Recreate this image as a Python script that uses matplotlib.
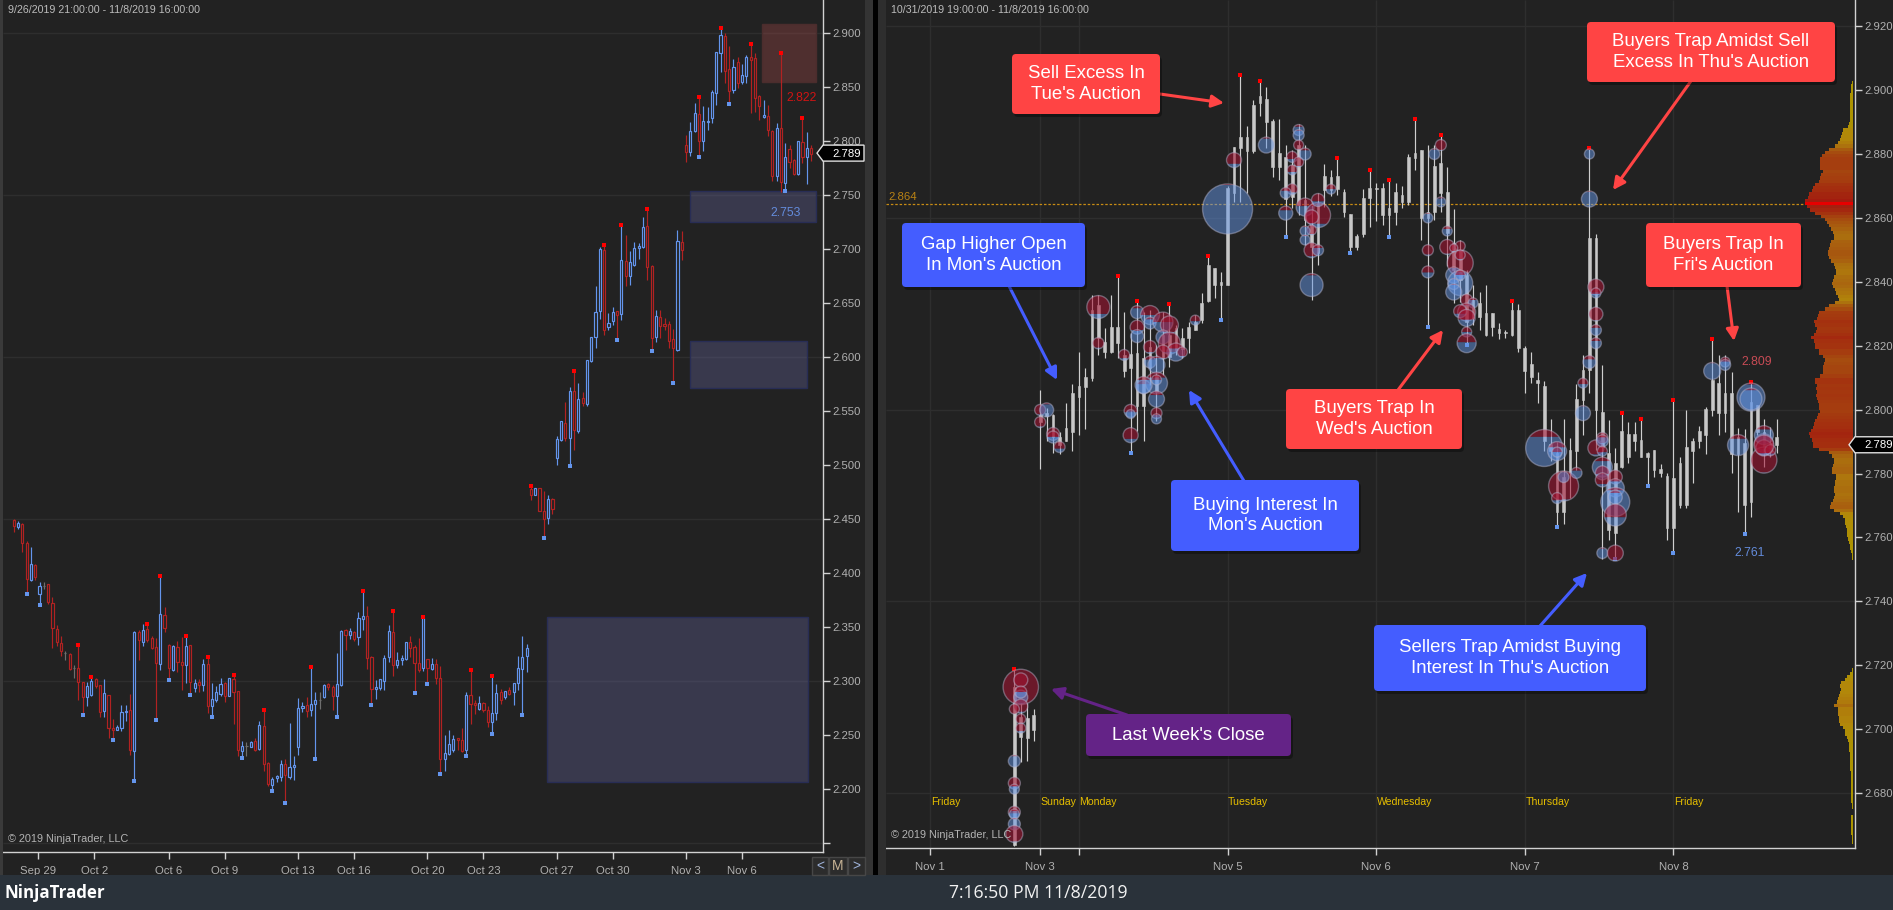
import numpy as np
import matplotlib
matplotlib.use('Agg')
import matplotlib.pyplot as plt
from matplotlib.patches import Rectangle, Circle, Polygon, FancyBboxPatch
from matplotlib.transforms import IdentityTransform
from matplotlib.colors import LinearSegmentedColormap

plt.rcParams['font.family'] = ['Liberation Sans', 'DejaVu Sans']

# ---- left chart: 30 minute style candles, R = down, B = up, G = doji
left_dir = ("RBRRBRBGRR" "RRGRGRRBBR" "RBRRBBBRBR" "BRRRBRRBRR" "BRBRBRBBBR" "BRRBGBRBRR"
            "BBBRBBBBRB" "BGBRRBBRBR" "BBRRBBBBRB" "BBRRRBRBRR" "BBBRRBRRBR" "RBBRBRBBBB"
            "RBRRBR" "BBRBRBRBBB" "BRBBRBRBBB" "BRRBRRRRBR" "RBBRBBBBBR" "RBRBBRRRBR" "RBRBRRBRBR")
left_high = [2.4500,2.4485,2.4463,2.4296,2.4244,2.4083,2.3919,2.3919,2.3898,2.3780,
    2.3521,2.3419,2.3280,2.3255,2.3147,2.3335,2.2989,2.2989,2.3039,2.3026,
    2.2965,2.3020,2.2872,2.2646,2.2591,2.2776,2.2779,2.2881,2.3465,2.3474,
    2.3530,2.3530,2.3413,2.3394,2.3975,2.3688,2.3338,2.3329,2.3366,2.3410,
    2.3419,2.3335,2.3017,2.3020,2.3202,2.3224,2.2980,2.2949,2.3026,2.2989,
    2.3026,2.3057,2.2906,2.2445,2.2436,2.2439,2.2470,2.2628,2.2733,2.2245,
    2.2109,2.2130,2.2269,2.2275,2.2609,2.2306,2.2841,2.2807,2.2850,2.3131,
    2.2897,2.2897,2.2974,2.2980,2.2958,2.3258,2.3474,2.3481,2.3490,2.3459,
    2.3638,2.3836,2.3697,2.3227,2.3011,2.3020,2.3243,2.3521,2.3651,2.3270,
    2.3236,2.3360,2.3419,2.3329,2.3397,2.3595,2.3202,2.3212,2.3202,2.3141,
    2.2501,2.2547,2.2501,2.2470,2.2563,2.2897,2.3104,2.2819,2.2863,2.2804,
    2.2764,2.3048,2.2971,2.2924,2.2909,2.2943,2.2980,2.3233,2.3419,2.3345,
    2.4809,2.4791,2.4788,2.4754,2.4723,2.4695,
    2.527,2.5408,2.5587,2.572,2.5874,2.576,2.568,2.5975,2.619,2.666,
    2.702,2.704,2.6408,2.6463,2.643,2.7225,2.7133,2.6985,2.7065,2.706,
    2.73,2.7374,2.685,2.644,2.644,2.636,2.633,2.626,2.718,2.717,
    2.8059,2.8182,2.8358,2.841,2.8327,2.832,2.8475,2.8824,2.905,2.90,
    2.888,2.876,2.8778,2.872,2.88,2.89,2.8815,2.843,2.838,2.8333,
    2.8105,2.8167,2.882,2.798,2.7966,2.784,2.8,2.8216,2.8083,2.7963]
left_top = [2.4494,2.4463,2.4454,2.4278,2.4083,2.4074,2.3882,2.3876,2.3895,2.3722,
    2.3481,2.3351,2.3258,2.3249,2.3119,2.3119,2.2986,2.2952,2.2998,2.3017,
    2.2958,2.2887,2.2869,2.2560,2.2572,2.2711,2.2717,2.2730,2.3453,2.3453,
    2.3471,2.3481,2.3397,2.3314,2.3620,2.3610,2.3335,2.3323,2.3314,2.3172,
    2.3323,2.3329,2.2980,2.2989,2.3156,2.3156,2.2832,2.2897,2.2971,2.2983,
    2.3023,2.3017,2.2903,2.2396,2.2399,2.2433,2.2442,2.2591,2.2581,2.2238,
    2.2093,2.2118,2.2229,2.2229,2.2201,2.2220,2.2748,2.2767,2.2776,2.2785,
    2.2822,2.2822,2.2962,2.2971,2.2946,2.2971,2.3465,2.3474,2.3462,2.3453,
    2.3583,2.3601,2.3601,2.3221,2.2943,2.3017,2.3212,2.3462,2.3453,2.3193,
    2.3215,2.3360,2.3360,2.3314,2.3165,2.3583,2.3199,2.3156,2.3156,2.3023,
    2.2331,2.2415,2.2461,2.2467,2.2452,2.2869,2.2869,2.2795,2.2795,2.2795,
    2.2727,2.2702,2.2887,2.2897,2.2903,2.2912,2.2980,2.3119,2.3221,2.3305,
    2.4778,2.4788,2.4788,2.4574,2.4686,2.4689,
    2.524,2.5408,2.539,2.5686,2.5683,2.561,2.562,2.597,2.6185,2.6417,
    2.7003,2.699,2.632,2.6417,2.6423,2.69,2.6886,2.688,2.701,2.703,
    2.7204,2.7213,2.684,2.638,2.637,2.631,2.6306,2.6167,2.7074,2.7065,
    2.7963,2.8099,2.8259,2.8256,2.8191,2.819,2.8454,2.8824,2.898,2.8975,
    2.8667,2.8685,2.873,2.861,2.8784,2.8784,2.8769,2.8417,2.824,2.823,
    2.8096,2.812,2.812,2.785,2.7926,2.783,2.8,2.7997,2.7935,2.7935]
left_bottom = [2.4432,2.4426,2.4275,2.3944,2.3932,2.3960,2.3802,2.3876,2.3728,2.3487,
    2.3357,2.3274,2.3258,2.3110,2.3119,2.2989,2.2850,2.2850,2.2866,2.2949,
    2.2711,2.2717,2.2560,2.2547,2.2544,2.2560,2.2708,2.2356,2.2347,2.3376,
    2.3357,2.3376,2.3301,2.3165,2.3153,2.3487,2.3116,2.3104,2.3172,2.3147,
    2.3147,2.2989,2.2931,2.2958,2.2961,2.2764,2.2764,2.2825,2.2881,2.2856,
    2.2856,2.2893,2.2356,2.2353,2.2399,2.2387,2.2362,2.2365,2.2226,2.2047,
    2.2035,2.2096,2.2106,2.2130,2.2109,2.2198,2.2384,2.2745,2.2717,2.2727,
    2.2782,2.2822,2.2847,2.2943,2.2856,2.2856,2.2965,2.3422,2.3422,2.3391,
    2.3403,2.3576,2.3209,2.2924,2.2924,2.2931,2.2995,2.3218,2.3144,2.3144,
    2.3190,2.3202,2.3301,2.3162,2.3104,2.3119,2.3116,2.3113,2.3023,2.2272,
    2.2272,2.2325,2.2356,2.2449,2.2347,2.2356,2.2785,2.2779,2.2739,2.2727,
    2.2615,2.2615,2.2702,2.2819,2.2850,2.2881,2.2897,2.2980,2.3110,2.3227,
    2.4720,2.4726,2.4571,2.4500,2.4506,2.4596,
    2.506,2.5235,2.5247,2.525,2.532,2.5315,2.557,2.5565,2.5966,2.619,
    2.6426,2.6247,2.628,2.633,2.639,2.6395,2.6747,2.6747,2.6855,2.701,
    2.702,2.683,2.618,2.619,2.629,2.629,2.6146,2.608,2.6068,2.6994,
    2.7904,2.7898,2.8099,2.8006,2.8006,2.818,2.822,2.8445,2.882,2.8654,
    2.847,2.8475,2.8537,2.8553,2.8605,2.8753,2.8404,2.833,2.8225,2.81,
    2.768,2.768,2.762,2.761,2.781,2.7695,2.7695,2.7858,2.7858,2.7886]
left_low = [2.4377,2.4408,2.4191,2.3808,2.3922,2.3938,2.3706,2.3851,2.3712,2.3308,
    2.3320,2.3233,2.3196,2.3104,2.3023,2.2819,2.2683,2.2764,2.2863,2.2931,
    2.2662,2.2662,2.2467,2.2455,2.2541,2.2538,2.2625,2.2316,2.2069,2.3190,
    2.3320,2.3363,2.3298,2.2634,2.3104,2.3450,2.3011,2.3088,2.3082,2.2912,
    2.2980,2.2866,2.2893,2.2893,2.2906,2.2702,2.2665,2.2807,2.2863,2.2807,
    2.2856,2.2603,2.2306,2.2285,2.2306,2.2384,2.2347,2.2362,2.2167,2.2022,
    2.1976,2.2059,2.2069,2.1868,2.2090,2.2084,2.2309,2.2708,2.2662,2.2671,
    2.2279,2.2742,2.2838,2.2912,2.2733,2.2662,2.2955,2.3289,2.3391,2.3372,
    2.3329,2.3474,2.3113,2.2773,2.2835,2.2912,2.2918,2.3172,2.3048,2.3116,
    2.3150,2.3196,2.3221,2.2890,2.3079,2.3088,2.2971,2.3101,2.2974,2.2139,
    2.2161,2.2309,2.2337,2.2362,2.2337,2.2306,2.2603,2.2696,2.2727,2.2711,
    2.2569,2.2510,2.2634,2.2788,2.2829,2.2866,2.2779,2.2918,2.2687,2.3079,
    2.4673,2.4720,2.4571,2.4324,2.4451,2.4550,
    2.4995,2.522,2.522,2.4988,2.5136,2.53,2.555,2.555,2.595,2.6087,
    2.6355,2.62,2.625,2.63,2.616,2.6346,2.666,2.667,2.6846,2.691,
    2.701,2.671,2.606,2.614,2.618,2.625,2.608,2.5755,2.606,2.6895,
    2.7812,2.7867,2.809,2.7858,2.7914,2.8105,2.8173,2.8337,2.8645,2.8537,
    2.8346,2.8445,2.849,2.853,2.8537,2.826,2.8275,2.82,2.822,2.805,
    2.7627,2.763,2.7525,2.7535,2.775,2.769,2.769,2.78,2.7605,2.782]
left_peaks = [15,18,31,34,40,45,51,58,69,81,88,95,106,111,120,130,137,141,147,159,164,171,178,183]
left_troughs = [3,6,16,23,28,33,36,41,46,53,60,63,70,75,83,93,96,99,105,111,118,123,129,140,148,153,159,166,179]
left_tick_pos = [5.7,18.7,36,49,66,79,96,109,126,139,156,169]
left_tick_labels = ['Sep 29','Oct 2','Oct 6','Oct 9','Oct 13','Oct 16','Oct 20','Oct 23','Oct 27','Oct 30','Nov 3','Nov 6']
left_y_ticks = [2.90,2.85,2.80,2.75,2.70,2.65,2.60,2.55,2.50,2.45,2.40,2.35,2.30,2.25,2.20,2.15]
left_grid = [2.90,2.75,2.60,2.45,2.30,2.15]
zone_x0 = [173.7,157,156.8,123.8]
zone_x1 = [186.2,186.2,184,184.2]
zone_lo = [2.8553,2.725,2.5713,2.2062]
zone_hi = [2.9086,2.7543,2.6146,2.3592]
zone_kind = ['sell','buy','buy','buy']

# ---- right chart
right_high = [2.7188,2.7082,2.7082,2.7063,2.8061,2.8005,2.7986,2.7930,2.8021,2.8080,
    2.8180,2.8130,2.8359,2.8359,2.8255,2.8359,2.8418,2.8305,2.8240,2.8340,
    2.8305,2.8312,2.8202,2.8305,2.8330,2.8265,2.8255,2.8274,2.8296,2.8365,
    2.8481,2.8443,2.8431,2.8700,2.8822,2.9047,2.8888,2.8969,2.9028,2.9010,
    2.8910,2.8910,2.8828,2.8812,2.8894,2.8828,2.8640,2.8678,2.8769,2.8750,
    2.8787,2.8690,2.8612,2.8550,2.8690,2.8750,2.8709,2.8709,2.8719,2.8709,
    2.8700,2.8800,2.8910,2.8812,2.8828,2.8828,2.8859,2.8759,2.8628,2.8531,
    2.8437,2.8390,2.8368,2.8390,2.8302,2.8271,2.8249,2.8340,2.8330,2.8199,
    2.8180,2.8118,2.8089,2.7971,2.7899,2.7971,2.7911,2.8080,2.8171,2.8819,
    2.8550,2.8140,2.7967,2.7880,2.7989,2.7961,2.7961,2.7971,2.7867,2.7873,
    2.7830,2.7802,2.8030,2.7852,2.7999,2.7911,2.7949,2.8008,2.8221,2.8171,
    2.8171,2.8118,2.7942,2.7939,2.8086,2.8014,2.7971,2.7945,2.7971]
right_top = [2.7132,2.7038,2.7035,2.7044,2.7983,2.7989,2.7983,2.7914,2.7942,2.8052,
    2.8074,2.8102,2.8312,2.8327,2.8212,2.8258,2.8258,2.8171,2.8174,2.8177,
    2.8161,2.8196,2.8108,2.8233,2.8233,2.8255,2.8224,2.8258,2.8274,2.8334,
    2.8453,2.8443,2.8399,2.8694,2.8822,2.8853,2.8853,2.8953,2.8982,2.8972,
    2.8903,2.8803,2.8791,2.8766,2.8828,2.8656,2.8578,2.8647,2.8731,2.8728,
    2.8731,2.8681,2.8612,2.8543,2.8662,2.8694,2.8694,2.8694,2.8631,2.8681,
    2.8672,2.8791,2.8803,2.8812,2.8618,2.8762,2.8772,2.8681,2.8521,2.8499,
    2.8421,2.8343,2.8334,2.8302,2.8302,2.8252,2.8243,2.8312,2.8312,2.8193,
    2.8143,2.8093,2.8074,2.7892,2.7864,2.7789,2.7873,2.8033,2.8124,2.8537,
    2.8537,2.7992,2.7864,2.7833,2.7933,2.7924,2.7924,2.7905,2.7864,2.7873,
    2.7814,2.7792,2.7786,2.7833,2.7883,2.7902,2.7933,2.8002,2.8093,2.8083,
    2.8052,2.8052,2.7914,2.7895,2.8024,2.8014,2.7930,2.7895,2.7914]
right_bottom = [2.6637,2.6975,2.6972,2.6997,2.7961,2.7980,2.7914,2.7889,2.7902,2.7930,
    2.8039,2.8071,2.8099,2.8224,2.8180,2.8180,2.8208,2.8121,2.8130,2.8011,
    2.8011,2.8130,2.8055,2.8161,2.8165,2.8186,2.8190,2.8224,2.8249,2.8280,
    2.8340,2.8390,2.8390,2.8390,2.8678,2.8819,2.8809,2.8809,2.8960,2.8900,
    2.8759,2.8759,2.8659,2.8665,2.8640,2.8593,2.8509,2.8490,2.8687,2.8687,
    2.8690,2.8618,2.8509,2.8509,2.8550,2.8662,2.8690,2.8609,2.8609,2.8618,
    2.8650,2.8650,2.8787,2.8600,2.8600,2.8618,2.8678,2.8553,2.8437,2.8406,
    2.8274,2.8287,2.8290,2.8233,2.8258,2.8240,2.8240,2.8233,2.8193,2.8121,
    2.8102,2.8083,2.7902,2.7870,2.7679,2.7679,2.7802,2.7870,2.8030,2.8124,
    2.7999,2.7883,2.7623,2.7614,2.7820,2.7852,2.7902,2.7852,2.7852,2.7811,
    2.7802,2.7629,2.7629,2.7701,2.7701,2.7870,2.7902,2.7920,2.7999,2.7989,
    2.7989,2.7861,2.7861,2.7701,2.7711,2.7930,2.7867,2.7867,2.7889]
right_low = [2.6634,2.6897,2.6900,2.6963,2.7814,2.7902,2.7864,2.7861,2.7902,2.7870,
    2.7920,2.7939,2.8089,2.8171,2.8161,2.8177,2.8161,2.8102,2.7864,2.7933,
    2.7902,2.8077,2.7964,2.8108,2.8133,2.8171,2.8161,2.8177,2.8249,2.8271,
    2.8337,2.8349,2.8280,2.8390,2.8650,2.8650,2.8678,2.8803,2.8919,2.8819,
    2.8728,2.8719,2.8540,2.8631,2.8609,2.8515,2.8343,2.8453,2.8634,2.8669,
    2.8672,2.8603,2.8490,2.8499,2.8540,2.8571,2.8590,2.8578,2.8540,2.8578,
    2.8631,2.8640,2.8750,2.8531,2.8258,2.8593,2.8618,2.8449,2.8334,2.8337,
    2.8202,2.8265,2.8249,2.8230,2.8230,2.8221,2.8224,2.8230,2.8180,2.8052,
    2.8083,2.8021,2.7870,2.7839,2.7632,2.7642,2.7723,2.7811,2.7920,2.8052,
    2.7873,2.7532,2.7592,2.7532,2.7817,2.7833,2.7870,2.7852,2.7761,2.7789,
    2.7789,2.7592,2.7551,2.7692,2.7692,2.7770,2.7880,2.7861,2.7980,2.7920,
    2.7930,2.7802,2.7679,2.7611,2.7664,2.7920,2.7820,2.7852,2.7864]
right_peaks = [0,16,19,24,30,35,38,50,55,58,62,66,77,89,94,97,102,108,114]
right_troughs = [18,32,42,52,58,64,70,84,93,98,102,113]
right_tick_pos = [-13,4,10,33,56,79,102]
right_tick_labels = ['Nov 1','Nov 3','','Nov 5','Nov 6','Nov 7','Nov 8']
right_y_ticks = [2.92,2.90,2.88,2.86,2.84,2.82,2.80,2.78,2.76,2.74,2.72,2.70,2.68]
right_grid = [2.92,2.86,2.80,2.74,2.68]
day_pos = [-13,4,10,33,56,79,102]
day_names = ['Friday','Sunday','Monday','Tuesday','Wednesday','Thursday','Friday']
poc_price = 2.8643
last_price = 2.789

# bubbles: candle index, price, radius in pixels, share of the bubble that is sell volume
bubble_idx = [1,1,1,1,1,0,1,1,0,0,0,0,0,0,0,
    4,5,4,6,6,7,13,13,17,18,18,18,19,19,19,21,21,23,24,23,24,25,26,21,23,21,22,20,22,20,22,22,22,22,28,
    33,34,39,44,44,44,43,44,43,45,43,42,42,45,47,47,46,46,45,45,46,47,46,49,
    66,65,64,66,67,64,64,67,69,69,69,68,68,69,68,69,68,70,71,70,69,70,70,70,
    89,89,90,90,90,90,90,89,88,88,108,110,110,114,114,112,82,84,84,85,85,84,87,
    90,91,91,91,91,91,91,93,93,93,93,93,91,93,116,116,116,116,117,116]
bubble_price = [2.7132,2.7154,2.7100,2.7116,2.7072,2.7063,2.7032,2.7003,2.6900,2.6831,2.6812,2.6740,2.6734,2.6703,2.6672,
    2.7999,2.7999,2.7961,2.7924,2.7914,2.7883,2.8321,2.8208,2.8171,2.7996,2.7986,2.7920,2.8305,2.8258,2.8230,
    2.8296,2.8271,2.8274,2.8265,2.8227,2.8208,2.8180,2.8180,2.8196,2.8180,2.8149,2.8140,2.8071,2.8083,2.8077,2.8033,2.7989,2.7971,2.8093,2.8280,
    2.8628,2.8781,2.8828,2.8875,2.8859,2.8828,2.8791,2.8775,2.8750,2.8800,2.8690,2.8678,2.8615,2.8634,2.8609,2.8656,2.8603,2.8562,2.8559,2.8531,2.8499,2.8499,2.8390,2.8690,
    2.8828,2.8800,2.8600,2.8650,2.8559,2.8499,2.8431,2.8509,2.8459,2.8512,2.8484,2.8506,2.8421,2.8396,2.8393,2.8421,2.8368,2.8343,2.8334,2.8305,2.8308,2.8287,2.8243,2.8208,
    2.8800,2.8659,2.8384,2.8365,2.8299,2.8249,2.8208,2.8149,2.8083,2.7989,2.8121,2.8149,2.8140,2.8039,2.8033,2.7889,2.7880,2.7870,2.7867,2.7761,2.7789,2.7723,2.7802,
    2.7880,2.7911,2.7902,2.7870,2.7820,2.7802,2.7780,2.7789,2.7755,2.7711,2.7726,2.7670,2.7551,2.7551,2.7895,2.7842,2.7920,2.7880,2.7873,2.7889]
bubble_radius = [17.7,7,7,6,7,5,5,5,6,6,5,6,5,6,8.5,
    5.5,7,5.5,6.5,6,5.5,11.5,5.7,5.5,6.5,4.5,7.5,6.5,7,6.5,9.5,6,10,9,7,11,9,5,6.5,7,6,8.5,7,11,8.5,8,5.5,5,5,5,
    25,7.5,8,5.5,5.5,5,5.5,5,5,6,5.5,5.5,7,9,12.5,6.5,7,5,5,5,7.5,5.5,11.5,5,
    5.5,5.5,5,5,5,5.5,6,7.5,13,5,5,4,8,12.5,5.5,5,8,6,5,9,6.5,8.5,5,9.5,
    5,8,8,5,7,5.5,5.5,6.5,5,7.5,8.5,5,5.5,14,11,10.5,18.5,9.5,5,15,5.5,5.5,5.5,
    8,5.7,6,5,10,7,7,7,9,14.5,7,11,5.5,8,9.5,13,9.5,8,5.5,10]
bubble_red = [.95,1,.1,.5,.9,1,.9,.8,.1,.8,.2,.6,.2,.1,.95,
    .9,.1,.9,.7,.5,.65,.8,.9,.8,.6,.1,.75,.2,.7,.1,.5,.2,.5,.9,.1,.9,.3,.9,.9,.95,.3,.1,.3,.25,.2,.25,.9,.1,.5,.6,
    .02,.75,.1,.2,.1,.95,.7,.9,.7,.2,.8,.3,.3,.45,.85,.6,.95,.9,.1,.1,.9,.3,.08,.5,
    .95,.1,.1,.15,.3,.9,.55,.95,.95,.9,.9,.9,.05,.05,.05,.5,.05,.9,.2,.95,.7,.6,.5,.45,
    .1,.05,.85,.6,.95,.3,.3,.3,.6,.05,.05,.5,.1,.05,.1,.2,.2,.3,.5,.95,.05,.7,.3,
    .9,.95,.2,.6,.2,.6,.8,.85,.1,.1,.2,.6,.1,.95,.8,.98,.2,.9,.8,.9]

# volume profile, one row per tick, top price going down
profile_upper = [1,2,2,2,3,3,3,3,3,3,3,3,3,4,5,10,11,12,13,15,18,24,28,31,33,33,33,33,30,32,
    33,34,38,40,41,44,45,48,48,46,43,38,32,28,26,24,22,20,19,19,22,23,24,25,25,24,22,19,18,17,
    17,19,20,21,20,18,17,15,14,18,24,28,34,35,36,39,38,36,37,39,42,39,38,38,34,34,30,28,29,30,
    30,30,33,38,38,36,37,36,37,36,35,34,34,33,35,36,38,39,40,42,44,43,41,40,40,34,24,21,19,19,
    20,21,21,17,17,18,18,19,19,18,19,20,22,23,19,13,10,8,8,7,6,6,6,5,4,3,3,2,1,1]
profile_middle = [1,3,6,8,12,13,12,13,14,15,16,19,15,15,15,14,14,13,10,8,8,6,5,4,4,4,3,3,3,3,
    3,3,2,2,2,2,2,2,2,2,2,2,1,1]
profile_lower = [2,2,2,2,2,2,1,1,1]
profile_upper_top = 2.9025
profile_middle_top = 2.7185
profile_lower_top = 2.6725
tick_size = 0.001

BG = '#222222'
GRID = '#2e2e2e'
AXIS = '#d2d2d2'
LABEL = '#b0b0b0'
BLUE = '#6495ED'
RED = '#B22222'
W, H = 1893, 910

fig = plt.figure(figsize=(W / 100, H / 100), dpi=100, facecolor=BG)


def px_axes(x0, y0, x1, y1):
    a = fig.add_axes([x0 / W, 1 - y1 / H, (x1 - x0) / W, (y1 - y0) / H], facecolor=BG)
    for s in ['top', 'left']:
        a.spines[s].set_visible(False)
    for s in ['right', 'bottom']:
        a.spines[s].set_color(AXIS)
        a.spines[s].set_linewidth(1)
    a.yaxis.tick_right()
    a.tick_params(axis='both', length=5, width=1, color=AXIS, labelcolor=LABEL, labelsize=8.2)
    a.tick_params(axis='x', pad=5)
    a.tick_params(axis='y', pad=2)
    return a


# left panel
ax1 = px_axes(3, 0, 823, 852)
ax1.set_xlim(-2.48, 187.77)
ax1.set_ylim(2.1413, 2.9309)
ax1.hlines(left_grid, -2.48, 187.77, color=GRID, lw=1, zorder=1)

for x0, x1, lo, hi, kind in zip(zone_x0, zone_x1, zone_lo, zone_hi, zone_kind):
    fc = (149 / 255, 69 / 255, 69 / 255, .4) if kind == 'sell' else (94 / 255, 94 / 255, 144 / 255, .4)
    ec = '#4b2d2d' if kind == 'sell' else '#282d55'
    ax1.add_patch(Rectangle((x0, lo), x1 - x0, hi - lo, fc=fc, ec=ec, lw=1, zorder=2))

idx1 = np.arange(len(left_high))
colors1 = [{'R': RED, 'B': BLUE, 'G': '#6e6e6e'}[d] for d in left_dir]
ax1.vlines(idx1, left_low, left_high, colors=colors1, lw=0.85, zorder=3)
ax1.bar(idx1, np.array(left_top) - np.array(left_bottom), bottom=left_bottom, width=0.5,
        facecolor=BG, edgecolor=colors1, linewidth=0.85, zorder=4)
ax1.scatter(left_peaks, np.array(left_high)[left_peaks], marker='s', s=9, color='#ff0000', linewidths=0, zorder=5)
ax1.scatter(left_troughs, np.array(left_low)[left_troughs], marker='s', s=9, color=BLUE, linewidths=0, zorder=5)
ax1.set_xticks(left_tick_pos)
ax1.set_xticklabels(left_tick_labels)
ax1.set_yticks(left_y_ticks)
ax1.set_yticklabels(['%.3f' % v if v > 2.16 else '' for v in left_y_ticks])
ax1.text(182.9, 2.8403, '2.822', color='#d01414', fontsize=8.8, ha='center', va='center', zorder=6)
ax1.text(179, 2.7337, '2.753', color='#648cdc', fontsize=8.8, ha='center', va='center', zorder=6)

# right panel
ax2 = px_axes(886, 0, 1855, 848)
ax2.set_xlim(-19.86, 130.1)
ax2.set_ylim(2.6628, 2.9282)
ax2.hlines(right_grid, -19.86, 130.1, color=GRID, lw=1, zorder=1)
ax2.vlines(right_tick_pos, 2.6628, 2.9282, color=GRID, lw=1, zorder=1)
ax2.hlines(poc_price, -19.86, 122.4, color='#c88c14', lw=0.9, linestyles=(0, (2, 1.5)), zorder=2)
ax2.text(-19.5, 2.8666, '2.864', color='#b98214', fontsize=8.2, ha='left', va='center', zorder=6)

vmap = LinearSegmentedColormap.from_list('vp', [(0, '#aa9600'), (.27, '#b2870a'), (.42, '#aa690f'),
                                                (.62, '#a5460f'), (1, '#a31c0f')])
for top, rows in [(profile_upper_top, profile_upper), (profile_middle_top, profile_middle),
                  (profile_lower_top, profile_lower)]:
    prices = top - np.arange(len(rows)) * tick_size
    vols = np.array(rows, dtype=float)
    ax2.barh(prices, -vols / 6.46, left=129.8, height=tick_size, color=vmap(vols / 48), linewidth=0,
             antialiased=False, zorder=2)
ax2.barh(profile_upper_top - 38 * tick_size, -48 / 6.46, left=129.8, height=tick_size, color='#e60000',
         linewidth=0, antialiased=False, zorder=2)

idx2 = np.arange(len(right_high))
ax2.vlines(idx2, right_low, right_high, colors='#cfcfcf', lw=0.85, zorder=3)
ax2.bar(idx2, np.array(right_top) - np.array(right_bottom), bottom=right_bottom, width=0.42,
        facecolor='#c8c8c8', edgecolor='#c8c8c8', linewidth=0.4, zorder=3)
ax2.scatter(right_peaks, np.array(right_high)[right_peaks], marker='s', s=8, color='#ff0000', linewidths=0, zorder=4)
ax2.scatter(right_troughs, np.array(right_low)[right_troughs], marker='s', s=8, color=BLUE, linewidths=0, zorder=4)
ax2.set_xticks(right_tick_pos)
ax2.set_xticklabels(right_tick_labels)
ax2.set_yticks(right_y_ticks)
ax2.set_yticklabels(['%.3f' % v for v in right_y_ticks])
for pos, name in zip(day_pos, day_names):
    ax2.text(pos + 0.1, 2.6773, name, color='#e6be00', fontsize=7.6, ha='left', va='center', zorder=6)
ax2.text(114.9, 2.8149, '2.809', color='#c84b55', fontsize=8.8, ha='center', va='center', zorder=6)
ax2.text(113.8, 2.7551, '2.761', color='#648cdc', fontsize=8.8, ha='center', va='center', zorder=6)

# bubbles need to stay round, so they are placed in pixels from the data position
fig.canvas.draw()
px = IdentityTransform()
for i, p, r, f in zip(bubble_idx, bubble_price, bubble_radius, bubble_red):
    cx, cy = ax2.transData.transform((i, p))
    a = np.arcsin(np.clip(1 - 2 * f, -1, 1))
    t_red = np.linspace(a, np.pi - a, 48)
    t_blue = np.linspace(np.pi - a, 2 * np.pi + a, 48)
    ax2.add_patch(Polygon(np.column_stack([cx + r * np.cos(t_red), cy + r * np.sin(t_red)]), closed=True, transform=px,
                          fc=(165 / 255, 18 / 255, 50 / 255, .56), ec='none', zorder=5))
    ax2.add_patch(Polygon(np.column_stack([cx + r * np.cos(t_blue), cy + r * np.sin(t_blue)]), closed=True, transform=px,
                          fc=(100 / 255, 150 / 255, 230 / 255, .5), ec='none', zorder=5))
    ax2.add_patch(Circle((cx, cy), r, transform=px, fc='none', ec=(.72, .72, .82, .45), lw=1, zorder=5))

# chrome and callouts are laid out in screen pixels on a full size overlay
ov = fig.add_axes([0, 0, 1, 1], zorder=10)
ov.set_xlim(0, W)
ov.set_ylim(H, 0)
ov.axis('off')
ov.patch.set_alpha(0)

ov.add_patch(Rectangle((0, 0), 3, 875, fc='#3a3a3a', ec='none'))
ov.add_patch(Rectangle((865, 0), 8, 875, fc='#343434', ec='none'))
ov.add_patch(Rectangle((873, 0), 5, 875, fc='#000000', ec='none'))
ov.add_patch(Rectangle((878, 0), 8, 875, fc='#2e2e2e', ec='none'))
ov.add_patch(Rectangle((0, 875), W, 35, fc='#2a323a', ec='none'))
ov.text(5, 893, 'NinjaTrader', color='white', fontsize=12.2, family=['Open Sans', 'DejaVu Sans'], fontweight='bold', va='center')
ov.text(949, 893, '7:16:50 PM 11/8/2019', color='#f2f2f2', fontsize=12.7, family=['Open Sans', 'DejaVu Sans'], va='center')

ov.text(8, 10, '9/26/2019 21:00:00 - 11/8/2019 16:00:00', color='#bcbcbc', fontsize=7.7, va='center')
ov.text(891, 10, '10/31/2019 19:00:00 - 11/8/2019 16:00:00', color='#bcbcbc', fontsize=7.7, va='center')
ov.text(8, 839, '\u00a9 2019 NinjaTrader, LLC', color='#b4b4b4', fontsize=7.8, va='center')
ov.text(891, 835, '\u00a9 2019 NinjaTrader, LLC', color='#b4b4b4', fontsize=7.8, va='center')

for x0, x1, lab, col in [(812, 828, '<', '#a0b4dc'), (829, 847, 'M', '#c8b496'), (848, 865, '>', '#a0b4dc')]:
    ov.add_patch(Rectangle((x0, 857), x1 - x0, 18, fc='#2c2c2c', ec='#474747', lw=1))
    ov.text((x0 + x1) / 2, 866, lab, color=col, fontsize=10, ha='center', va='center')


def price_tag(a, price, x_tip, x_body, x_end):
    y = H - a.transData.transform((0, price))[1]
    h = 8
    ov.add_patch(Polygon([(x_tip, y), (x_body, y - h), (x_end, y - h), (x_end, y + h), (x_body, y + h)], closed=True,
                         fc='#000000', ec='#e0e0e0', lw=1, zorder=3))
    ov.text(x_body + 9, y + 0.5, '%.3f' % price, color='white', fontsize=8.2, va='center', zorder=4)


price_tag(ax1, last_price, 817, 823, 864)
price_tag(ax2, last_price, 1849, 1855, 1894)


def callout(x0, y0, x1, y1, color, lines, tail, head):
    ov.annotate('', xy=head, xytext=tail, xycoords='data', textcoords='data', zorder=5,
                arrowprops=dict(arrowstyle='-|>,head_length=0.55,head_width=0.28', color=color, lw=2.2,
                                shrinkA=0, shrinkB=0, mutation_scale=13))
    ov.add_patch(FancyBboxPatch((x0 + 2, y0 + 3), x1 - x0, y1 - y0, boxstyle='round,pad=0,rounding_size=4',
                                fc=(0, 0, 0, .35), ec='none', zorder=6))
    ov.add_patch(FancyBboxPatch((x0, y0), x1 - x0, y1 - y0, boxstyle='round,pad=0,rounding_size=4',
                                fc=color, ec='none', zorder=7))
    ov.text((x0 + x1) / 2, (y0 + y1) / 2, lines, color='white', fontsize=13.4, ha='center', va='center',
            linespacing=1.27, zorder=8)


CRED = '#ff4444'
CBLUE = '#445dff'
CPUR = '#642387'
callout(1012, 54, 1160, 114, CRED, "Sell Excess In\nTue's Auction", (1160, 94), (1224, 103))
callout(902, 223, 1085, 287, CBLUE, "Gap Higher Open\nIn Mon's Auction", (1009, 286), (1057, 380))
callout(1587, 22, 1835, 82, CRED, "Buyers Trap Amidst Sell\nExcess In Thu's Auction", (1691, 81), (1613, 190))
callout(1646, 223, 1801, 287, CRED, "Buyers Trap In\nFri's Auction", (1727, 286), (1734, 341))
callout(1286, 389, 1462, 449, CRED, "Buyers Trap In\nWed's Auction", (1398, 390), (1443, 330))
callout(1171, 480, 1359, 551, CBLUE, "Buying Interest In\nMon's Auction", (1244, 481), (1189, 390))
callout(1374, 625, 1646, 691, CBLUE, "Sellers Trap Amidst Buying\nInterest In Thu's Auction", (1540, 626), (1587, 573))
callout(1086, 714, 1291, 756, CPUR, "Last Week's Close", (1127, 715), (1051, 689))

fig.savefig('out.png', dpi=100, facecolor=BG)
